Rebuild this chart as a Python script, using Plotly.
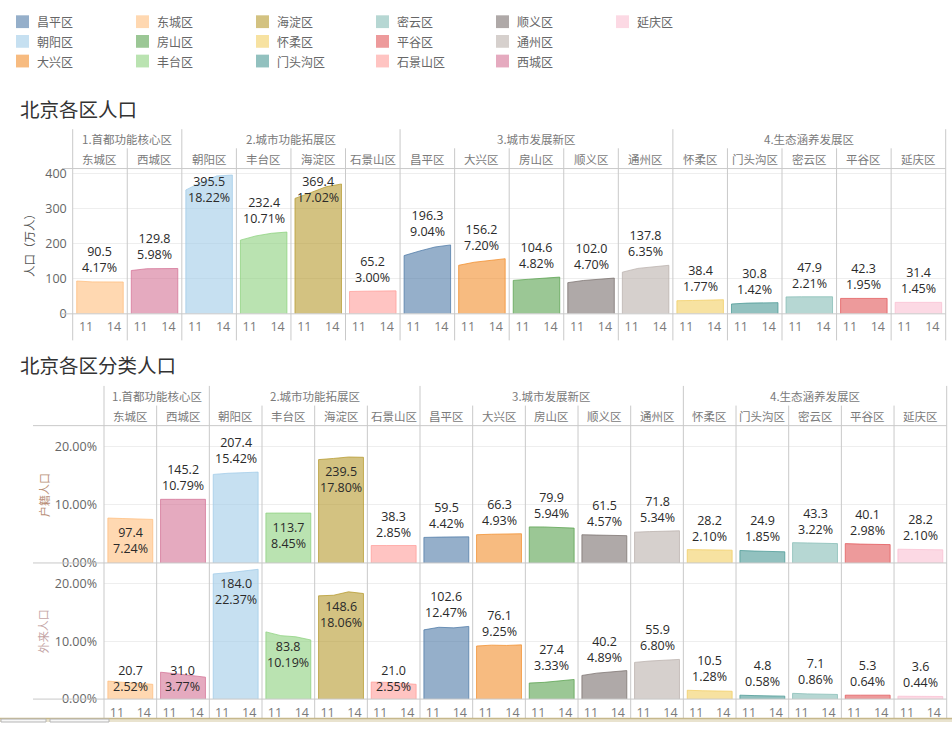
import plotly.graph_objects as go

W, H = 952, 730

# ---------------- data ----------------
districts = ["东城区", "西城区", "朝阳区", "丰台区", "海淀区", "石景山区", "昌平区", "大兴区",
             "房山区", "顺义区", "通州区", "怀柔区", "门头沟区", "密云区", "平谷区", "延庆区"]
group_names = ["1.首都功能核心区", "2.城市功能拓展区", "3.城市发展新区", "4.生态涵养发展区"]
group_sizes = [2, 4, 5, 5]
years = [11, 12, 13, 14]
year_tick_text = ["11", "14"]
total_ticks = [0, 100, 200, 300, 400]
share_ticks = [0, 10, 20]
share_tick_text = ["0.00%", "10.00%", "20.00%"]

legend_order = ["昌平区", "朝阳区", "大兴区", "东城区", "房山区", "丰台区", "海淀区", "怀柔区",
                "门头沟区", "密云区", "平谷区", "石景山区", "顺义区", "通州区", "西城区", "延庆区"]
legend_colors = ["#4E79A7", "#A0CBE8", "#F28E2B", "#FFBE7D", "#59A14F", "#8CD17D", "#B6992D", "#F1CE63",
                 "#499894", "#86BCB6", "#E15759", "#FF9D9A", "#79706E", "#BAB0AC", "#D37295", "#FABFD2"]

# 常住人口 (万人), years 11..14, in district (column) order
pop_total = [
    [93.5, 91.0, 90.8, 90.7],
    [123.4, 128.5, 129.0, 129.2],
    [353.0, 375.0, 393.0, 395.5],
    [210.0, 222.0, 229.5, 233.0],
    [329.0, 345.0, 362.0, 370.0],
    [63.6, 64.5, 65.0, 65.4],
    [166.0, 179.0, 190.5, 196.3],
    [138.3, 147.0, 152.0, 157.0],
    [95.3, 98.5, 102.0, 104.7],
    [88.8, 95.0, 99.0, 101.9],
    [118.7, 129.5, 134.5, 138.3],
    [37.4, 38.0, 39.5, 40.2],
    [28.0, 30.5, 31.5, 31.8],
    [48.2, 48.6, 48.7, 48.6],
    [43.9, 43.9, 43.9, 43.9],
    [32.7, 32.7, 32.7, 32.7],
]
pop_total_label = [90.5, 129.8, 395.5, 232.4, 369.4, 65.2, 196.3, 156.2,
                   104.6, 102.0, 137.8, 38.4, 30.8, 47.9, 42.3, 31.4]
pop_total_pct = ["4.17%", "5.98%", "18.22%", "10.71%", "17.02%", "3.00%", "9.04%", "7.20%",
                 "4.82%", "4.70%", "6.35%", "1.77%", "1.42%", "2.21%", "1.95%", "1.45%"]

# 户籍人口 share of total (%), years 11..14
huji_share = [
    [7.74, 7.65, 7.60, 7.50],
    [10.96, 10.96, 10.96, 10.96],
    [15.25, 15.45, 15.55, 15.65],
    [8.59, 8.60, 8.60, 8.59],
    [17.80, 18.00, 18.25, 18.20],
    [3.00, 3.00, 3.00, 3.00],
    [4.40, 4.45, 4.50, 4.50],
    [4.86, 4.95, 5.00, 5.03],
    [6.21, 6.20, 6.10, 6.00],
    [4.86, 4.80, 4.75, 4.70],
    [5.30, 5.40, 5.50, 5.54],
    [2.30, 2.27, 2.25, 2.20],
    [2.15, 2.05, 1.98, 1.92],
    [3.50, 3.45, 3.40, 3.33],
    [3.33, 3.25, 3.20, 3.16],
    [2.37, 2.33, 2.30, 2.26],
]
huji_label = [97.4, 145.2, 207.4, 113.7, 239.5, 38.3, 59.5, 66.3,
              79.9, 61.5, 71.8, 28.2, 24.9, 43.3, 40.1, 28.2]
huji_pct = ["7.24%", "10.79%", "15.42%", "8.45%", "17.80%", "2.85%", "4.42%", "4.93%",
            "5.94%", "4.57%", "5.34%", "2.10%", "1.85%", "3.22%", "2.98%", "2.10%"]

# 外来人口 share of total (%), years 11..14
wailai_share = [
    [3.12, 2.90, 2.70, 2.56],
    [4.66, 4.40, 4.10, 3.80],
    [21.70, 21.90, 22.20, 22.50],
    [11.65, 11.00, 10.80, 10.25],
    [17.90, 18.00, 18.60, 18.30],
    [2.95, 2.90, 2.75, 2.56],
    [12.00, 12.45, 12.35, 12.60],
    [9.20, 9.35, 9.30, 9.40],
    [2.78, 2.90, 3.10, 3.40],
    [4.10, 4.50, 4.70, 4.94],
    [6.36, 6.60, 6.80, 6.88],
    [1.53, 1.45, 1.40, 1.36],
    [0.68, 0.60, 0.55, 0.51],
    [1.00, 0.90, 0.85, 0.80],
    [0.68, 0.68, 0.68, 0.68],
    [0.50, 0.48, 0.46, 0.45],
]
wailai_label = [20.7, 31.0, 184.0, 83.8, 148.6, 21.0, 102.6, 76.1,
                27.4, 40.2, 55.9, 10.5, 4.8, 7.1, 5.3, 3.6]
wailai_pct = ["2.52%", "3.77%", "22.37%", "10.19%", "18.06%", "2.55%", "12.47%", "9.25%",
              "3.33%", "4.89%", "6.80%", "1.28%", "0.58%", "0.86%", "0.64%", "0.44%"]

# label placement style (Tableau placed some labels inside the mark)
huji_mode = ["in", "up", "up", "in", "in", "up", "up", "up", "up", "up", "up", "up", "up", "up", "up", "up"]
wailai_mode = ["in", "in", "in", "in", "in", "in", "up", "up", "up", "up", "up", "up", "up", "up", "up", "up"]
total_mode = ["up"] * 16

# ---------------- helpers ----------------
def fx(p):
    return p / W

def fy(p):
    return 1 - p / H

def rgba(h, a):
    h = h.lstrip("#")
    return "rgba(%d,%d,%d,%s)" % (int(h[0:2], 16), int(h[2:4], 16), int(h[4:6], 16), a)

color_of = dict(zip(legend_order, legend_colors))

NUM_FONT = "Open Sans, Noto Sans CJK SC, sans-serif"
CJK_FONT = "Noto Sans CJK SC, sans-serif"
GRID = "#EEEEEE"
SEP = "#C9C9C9"

fig = go.Figure()
shapes, anns = [], []
layout_axes = {}

X_RANGE = [10.74, 14.26]
TICKPOS = [11.6, 13.4]

def hline(y, x0, x1):
    shapes.append(dict(type="line", xref="paper", yref="paper", x0=fx(x0), x1=fx(x1),
                       y0=fy(y), y1=fy(y), line=dict(color=SEP, width=1)))

def vline(x, y0, y1):
    shapes.append(dict(type="line", xref="paper", yref="paper", x0=fx(x), x1=fx(x),
                       y0=fy(y0), y1=fy(y1), line=dict(color=SEP, width=1)))

def add_area(xa, ya, vals, name):
    c = color_of[name]
    xs = [years[0]] + years + [years[-1]]
    ys = [0] + list(vals) + [0]
    fig.add_trace(go.Scatter(x=xs, y=ys, mode="lines", fill="toself",
                             fillcolor=rgba(c, 0.6), line=dict(color=rgba(c, 0.75), width=1),
                             xaxis=xa, yaxis=ya, hoverinfo="skip", showlegend=False))

def add_label(xref, yref, vmax, text, mode, ymax, dom_px):
    ppu = dom_px / ymax
    block = 36
    if mode == "up":
        if vmax * ppu + 5 + block > dom_px:
            y, yan, ys = ymax, "top", -2
        else:
            y, yan, ys = vmax, "bottom", 3
    else:
        if vmax * ppu - 5 - block < 0:
            y, yan, ys = 0, "bottom", 2
        else:
            y, yan, ys = vmax, "top", -4
    anns.append(dict(xref=xref, yref=yref, x=12.5, y=y, xanchor="center", yanchor=yan, yshift=ys,
                     text=text, showarrow=False, align="center",
                     font=dict(family=NUM_FONT, size=12.5, color="#2a2a2a")))

def xaxis_def(l, r, anchor, standoff):
    return dict(domain=[fx(l), fx(r)], range=X_RANGE, anchor=anchor,
                tickvals=TICKPOS, ticktext=year_tick_text, ticks="",
                showgrid=False, zeroline=False, showline=False, fixedrange=True,
                tickfont=dict(family=NUM_FONT, size=12.5, color="#7a7a7a"),
                ticklabelstandoff=standoff)

def headers(left, cw, grp_top, dist_top, vbottom, grp_y, dist_y):
    idx = 0
    for g, n in zip(group_names, group_sizes):
        gl = left + idx * cw
        gr = left + (idx + n) * cw
        anns.append(dict(xref="paper", yref="paper", x=fx((gl + gr) / 2), y=fy(grp_y),
                         xanchor="center", yanchor="middle", text=g, showarrow=False,
                         font=dict(family=CJK_FONT, size=11.5, color="#7a7a7a")))
        vline(gl, grp_top, vbottom)
        idx += n
    vline(left + 16 * cw, grp_top, vbottom)
    for i, d in enumerate(districts):
        c = left + (i + 0.5) * cw
        anns.append(dict(xref="paper", yref="paper", x=fx(c), y=fy(dist_y),
                         xanchor="center", yanchor="middle", text=d, showarrow=False,
                         font=dict(family=CJK_FONT, size=11.5, color="#7a7a7a")))
    starts = set()
    idx = 0
    for n in group_sizes:
        starts.add(idx)
        idx += n
    for i in range(1, 16):
        if i not in starts:
            vline(left + i * cw, dist_top, vbottom)

# ---------------- top chart ----------------
T_LEFT, T_RIGHT = 72.7, 945.7
T_CW = (T_RIGHT - T_LEFT) / 16
T_TOP, T_BOT = 167.3, 315.0
T_YMAX = 414.0

layout_axes["yaxis"] = dict(domain=[fy(T_BOT), fy(T_TOP)], range=[0, T_YMAX], anchor="x",
                            tickvals=total_ticks, ticks="", showgrid=True, gridcolor=GRID,
                            zeroline=False, showline=False, fixedrange=True,
                            tickfont=dict(family=NUM_FONT, size=12.5, color="#666"),
                            ticklabelstandoff=5)
for i, d in enumerate(districts):
    l = T_LEFT + i * T_CW
    name = "xaxis" if i == 0 else "xaxis%d" % (i + 1)
    layout_axes[name] = xaxis_def(l, l + T_CW, "y", 4)
    xa = "x" if i == 0 else "x%d" % (i + 1)
    add_area(xa, "y", pop_total[i], d)
    add_label(xa, "y", max(pop_total[i]), "%.1f<br>%s" % (pop_total_label[i], pop_total_pct[i]),
              total_mode[i], T_YMAX, T_BOT - T_TOP)

headers(T_LEFT, T_CW, 127.3, 146.7, 342, 137.5, 157.5)
hline(T_TOP, 62, T_RIGHT)
hline(T_BOT, 62, T_RIGHT)

anns.append(dict(xref="paper", yref="paper", x=fx(18), y=fy(106), xanchor="left", yanchor="middle",
                 text="北京各区人口", showarrow=False, font=dict(family=CJK_FONT, size=19.5, color="#333")))
anns.append(dict(xref="paper", yref="paper", x=fx(28.5), y=fy(242.5), xanchor="center", yanchor="middle",
                 text="人口（万人）", textangle=-90, showarrow=False,
                 font=dict(family=CJK_FONT, size=11.5, color="#555")))

# ---------------- bottom chart ----------------
B_LEFT, B_RIGHT = 104.0, 946.7
B_CW = (B_RIGHT - B_LEFT) / 16
B_TOP, B_MID, B_BOT = 428.7, 568.3, 706.7
B_YMAX1, B_YMAX2 = 23.65, 23.6

for nm, dom, ymax in [("yaxis2", [fy(B_MID), fy(B_TOP)], B_YMAX1),
                      ("yaxis3", [fy(B_BOT), fy(B_MID)], B_YMAX2)]:
    layout_axes[nm] = dict(domain=dom, range=[0, ymax], anchor="x17",
                           tickvals=share_ticks, ticktext=share_tick_text, ticks="",
                           showgrid=True, gridcolor=GRID, zeroline=False, showline=False, fixedrange=True,
                           tickfont=dict(family=NUM_FONT, size=12.5, color="#666"),
                           ticklabelstandoff=6)
for i, d in enumerate(districts):
    l = B_LEFT + i * B_CW
    layout_axes["xaxis%d" % (i + 17)] = xaxis_def(l, l + B_CW, "y3", 4)
    xa = "x%d" % (i + 17)
    add_area(xa, "y2", huji_share[i], d)
    add_area(xa, "y3", wailai_share[i], d)
    add_label(xa, "y2", max(huji_share[i]), "%.1f<br>%s" % (huji_label[i], huji_pct[i]),
              huji_mode[i], B_YMAX1, B_MID - B_TOP)
    add_label(xa, "y3", max(wailai_share[i]), "%.1f<br>%s" % (wailai_label[i], wailai_pct[i]),
              wailai_mode[i], B_YMAX2, B_BOT - B_MID)

headers(B_LEFT, B_CW, 388.3, 408.3, 726, 399, 419)
hline(B_TOP, 33, B_RIGHT)
hline(B_MID, 33, B_RIGHT)
hline(B_BOT, 33, B_RIGHT)

anns.append(dict(xref="paper", yref="paper", x=fx(18), y=fy(367), xanchor="left", yanchor="middle",
                 text="北京各区分类人口", showarrow=False, font=dict(family=CJK_FONT, size=19.5, color="#333")))
anns.append(dict(xref="paper", yref="paper", x=fx(43.3), y=fy(499), xanchor="center", yanchor="middle",
                 text="户籍人口", textangle=-90, showarrow=False,
                 font=dict(family=CJK_FONT, size=11, color="#B88E76")))
anns.append(dict(xref="paper", yref="paper", x=fx(43.3), y=fy(637.5), xanchor="center", yanchor="middle",
                 text="外来人口", textangle=-90, showarrow=False,
                 font=dict(family=CJK_FONT, size=11, color="#C4A5A5")))

# ---------------- legend ----------------
for k, (name, col) in enumerate(zip(legend_order, legend_colors)):
    c, r = k // 3, k % 3
    sx = 16 + 120 * c
    cy = 18 + 20 * r
    shapes.append(dict(type="rect", xref="paper", yref="paper", x0=fx(sx), x1=fx(sx + 13),
                       y0=fy(cy + 6.5), y1=fy(cy - 6.5), fillcolor=rgba(col, 0.6), line=dict(width=0)))
    anns.append(dict(xref="paper", yref="paper", x=fx(sx + 19), y=fy(cy), xanchor="left", yanchor="middle",
                     text=name, showarrow=False, font=dict(family=CJK_FONT, size=12, color="#666")))

# ---------------- bottom tab strip ----------------
shapes.append(dict(type="rect", xref="paper", yref="paper", x0=0, x1=1, y0=fy(730), y1=fy(726.5),
                   fillcolor="#E9E3CF", line=dict(width=0)))
shapes.append(dict(type="line", xref="paper", yref="paper", x0=0, x1=1, y0=fy(726.5), y1=fy(726.5),
                   line=dict(color="#C6B88C", width=1.5)))
for a, b in [(1, 46), (50, 109)]:
    shapes.append(dict(type="rect", xref="paper", yref="paper", x0=fx(a), x1=fx(b), y0=fy(730), y1=fy(727),
                       fillcolor="#F7F7F7", line=dict(color="#B5B5B5", width=1)))

fig.update_layout(width=W, height=H, autosize=False, margin=dict(l=0, r=0, t=0, b=0),
                  paper_bgcolor="white", plot_bgcolor="white", showlegend=False,
                  shapes=shapes, annotations=anns, **layout_axes)

fig.write_html("out.html", config={"displayModeBar": False})
